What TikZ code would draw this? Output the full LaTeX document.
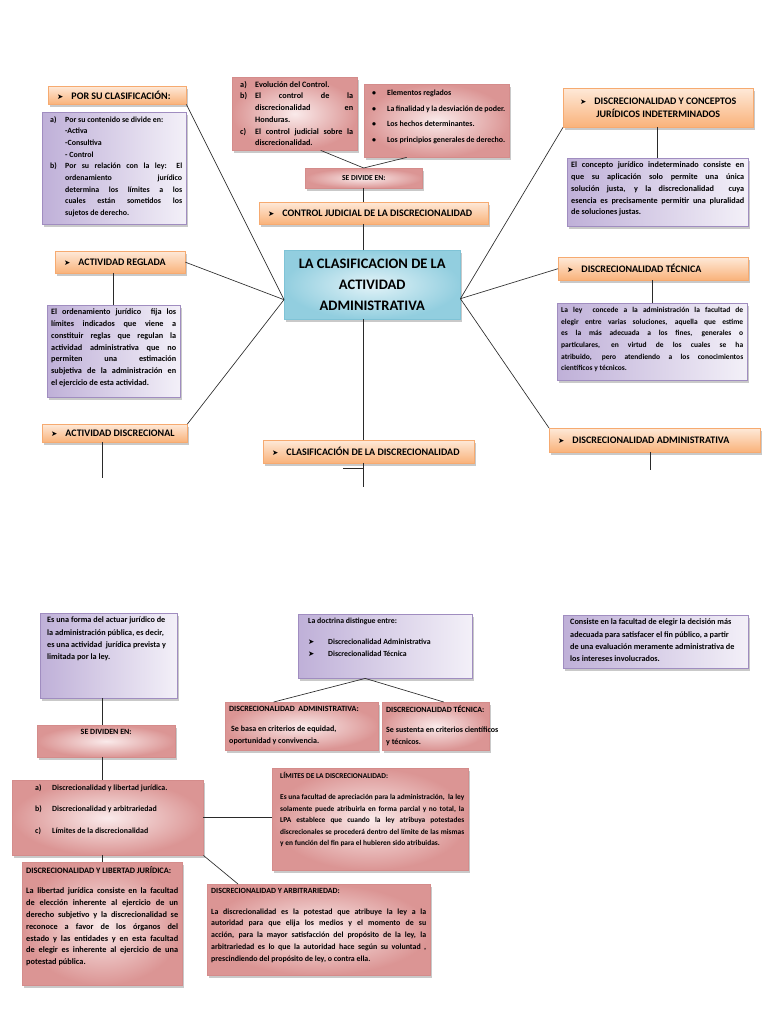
\documentclass[tikz,border=0pt]{standalone}
\usepackage{fontspec}
\setmainfont{Carlito}
\newfontfamily\djv{DejaVu Sans}
\usetikzlibrary{shadows,calc}
\definecolor{orA}{HTML}{FEE9D8}
\definecolor{orB}{HTML}{F9B27A}
\definecolor{orD}{HTML}{F6AA70}
\definecolor{puA}{HTML}{F3F0F8}
\definecolor{puB}{HTML}{BFB0D8}
\definecolor{puD}{HTML}{A08DC0}
\definecolor{piA}{HTML}{FAEAEA}
\definecolor{piB}{HTML}{DB9594}
\definecolor{piD}{HTML}{D48C8B}
\definecolor{blA}{HTML}{E2F3F8}
\definecolor{blB}{HTML}{92CEDF}
\definecolor{blD}{HTML}{7FC3D6}
\definecolor{lnC}{HTML}{2A2A2A}
\newcommand\bx[3]{\parbox[c][#2pt][t]{#1pt}{#3}}
\newcommand\bxm[3]{\parbox[c][#2pt][c]{#1pt}{#3}}
\newcommand\arr{{\djv\fontsize{7.5}{7.5}\selectfont ➤}}
\newcommand\hd[1]{\arr\hspace{8pt}#1}
\newcommand\fs[2]{\fontsize{#1}{#2}\selectfont}
\newcommand\itm[3][18]{\par\hangindent=#1pt\hangafter=1\noindent\makebox[#1pt][l]{#2}#3\par}
\tikzset{
 bbase/.style={anchor=north west, inner xsep=4pt, inner ysep=4pt, line width=0.4pt,
   drop shadow={shadow xshift=2.2pt, shadow yshift=-2.4pt, fill=black!60, opacity=0.35}},
 hdr/.style={bbase, inner xsep=9pt, inner ysep=2pt, draw=orD, top color=orA, bottom color=orB, font=\bfseries\fs{10}{12.5}},
 pbx/.style={bbase, draw=puD, left color=puB, right color=puA, font=\bfseries\fs{8}{11.7}},
 rbx/.style={bbase, draw=piD, inner color=piA, outer color=piB, font=\bfseries\fs{8}{11.7}},
 ctr/.style={bbase, draw=blD, inner color=blA, outer color=blB, font=\bfseries\fs{14.5}{21}},
 ln/.style={draw=lnC, line width=0.65pt},
}
\begin{document}
\begin{tikzpicture}[x=1pt,y=-1pt]
\useasboundingbox[fill=white] (0,0) rectangle (768,1024);
% ---------- top half ----------
\node[hdr] (por) at (48,86) {\bxm{120}{14}{\raggedright\hd{POR SU CLASIFICACIÓN:}}};
\node[pbx, font=\bfseries\fs{7.9}{11.7}] (porb) at (42,112) {\bx{136}{104}{%
 \itm[19]{\hspace*{4pt}a)}{Por su contenido se divide en:\\-Activa\\-Consultiva\\- Control}%
 \itm[19]{\hspace*{4pt}b)}{Por su relación con la ley: El\linebreak ordenamiento jurídico\linebreak determina los límites a los\linebreak cuales están sometidos los\linebreak sujetos de derecho.}}};
\node[rbx, font=\bfseries\fs{8.2}{11.7}] (evol) at (232,77) {\bx{117}{65}{%
 \itm[19]{\hspace*{4pt}a)}{Evolución del Control.}%
 \itm[19]{\hspace*{4pt}b)}{El control de la\linebreak discrecionalidad en\linebreak Honduras.}%
 \itm[19]{\hspace*{4pt}c)}{El control judicial sobre la\linebreak discrecionalidad.}}};
\node[rbx, font=\bfseries\fs{7.9}{15.5}] (bul) at (364,84) {\bx{137}{65}{\vspace*{2pt}%
 \itm[19]{\hspace*{4pt}•}{Elementos reglados}%
 \itm[19]{\hspace*{4pt}•}{La finalidad y la desviación de poder.}%
 \itm[19]{\hspace*{4pt}•}{Los hechos determinantes.}%
 \itm[19]{\hspace*{4pt}•}{Los principios generales de derecho.}}};
\node[rbx, font=\bfseries\fs{7.6}{8}] (sediv) at (305,168) {\bxm{109}{12}{\centering SE DIVIDE EN:}};
\node[hdr] (ctrl) at (259,202) {\bxm{211}{18}{\raggedright\hd{CONTROL JUDICIAL DE LA DISCRECIONALIDAD}}};
\node[ctr] (center) at (284,250) {\bxm{168}{61}{\centering LA CLASIFICACION DE LA\\ACTIVIDAD\\ADMINISTRATIVA}};
\node[hdr] (conc) at (563,88) {\bxm{172}{35}{\centering\hd{DISCRECIONALIDAD Y CONCEPTOS}\\JURÍDICOS INDETERMINADOS}};
\node[pbx, font=\bfseries\fs{8.2}{11.7}] (concb) at (567,158) {\bx{173}{60}{El concepto jurídico indeterminado consiste en\linebreak que su aplicación solo permite una única\linebreak solución justa, y la discrecionalidad\ \ cuya\linebreak esencia es precisamente permitir una pluralidad\linebreak de soluciones justas.}};
\node[hdr] (tec) at (558,257) {\bxm{172}{19}{\raggedright\hd{DISCRECIONALIDAD TÉCNICA}}};
\node[pbx, font=\bfseries\fs{7.5}{11.7}] (tecb) at (557,303) {\bx{182}{69}{La ley\ \ concede a la administración la facultad de\linebreak elegir entre varias soluciones, aquella que estime\linebreak es la más adecuada a los fines, generales o\linebreak particulares, en virtud de los cuales se ha\linebreak atribuido, pero atendiendo a los conocimientos\linebreak científicos y técnicos.}};
\node[hdr] (adm) at (549,428) {\bxm{193}{20}{\raggedright\hd{DISCRECIONALIDAD ADMINISTRATIVA}}};
\node[hdr] (regl) at (55,251) {\bxm{112}{18}{\raggedright\hd{ACTIVIDAD REGLADA}}};
\node[pbx, font=\bfseries\fs{8.2}{11.7}] (reglb) at (47,305) {\bx{125}{84}{El ordenamiento jurídico\ \ fija los\linebreak límites indicados que viene a\linebreak constituir reglas que regulan la\linebreak actividad administrativa que no\linebreak permiten una estimación\linebreak subjetiva de la administración en\linebreak el ejercicio de esta actividad.}};
\node[hdr] (disc) at (42,424) {\bxm{127}{14}{\raggedright\hd{ACTIVIDAD DISCRECIONAL}}};
\node[hdr] (clasif) at (263,440) {\bxm{193}{19}{\raggedright\hd{CLASIFICACIÓN DE LA DISCRECIONALIDAD}}};
% ---------- bottom half ----------
\node[pbx, font=\bfseries\fs{8.2}{12.3}] (forma) at (40,613) {\bx{129}{77}{\raggedright\hspace*{3pt}Es una forma del actuar jurídico de\\\hspace*{3pt}la administración pública, es decir,\\\hspace*{3pt}es una actividad\ \ jurídica prevista y\\\hspace*{3pt}limitada por la ley.}};
\node[rbx, font=\bfseries\fs{8}{11.7}] (sediven) at (37,725) {\bx{130}{24}{\centering SE DIVIDEN EN:}};
\node[rbx, font=\bfseries\fs{7.9}{21.5}] (abc) at (12,780) {\bx{183}{67}{%
 \itm[36]{\hspace*{19pt}a)}{Discrecionalidad y libertad jurídica.}%
 \itm[36]{\hspace*{19pt}b)}{Discrecionalidad y arbitrariedad}%
 \itm[36]{\hspace*{19pt}c)}{Límites de la discrecionalidad}}};
\node[rbx, font=\bfseries\fs{7.4}{11.5}] (lim) at (272,768) {\bx{188}{94}{\hspace*{4pt}LÍMITES DE LA DISCRECIONALIDAD:\par\vskip 10pt
 \leftskip=4pt Es una facultad de apreciación para la administración,\ \ la ley\linebreak solamente puede atribuirla en forma parcial y no total, la\linebreak LPA establece que cuando la ley atribuya potestades\linebreak discrecionales se procederá dentro del límite de las mismas\linebreak y en función del fin para el hubieren sido atribuidas.}};
\node[rbx, font=\bfseries\fs{8.3}{11.8}] (lib) at (22,862) {\bx{152}{115}{DISCRECIONALIDAD Y LIBERTAD JURÍDICA:\par\vskip 9pt
 La libertad jurídica consiste en la facultad\linebreak de elección inherente al ejercicio de un\linebreak derecho subjetivo y la discrecionalidad se\linebreak reconoce a favor de los órganos del\linebreak estado y las entidades y en esta facultad\linebreak de elegir es inherente al ejercicio de una\linebreak potestad pública.}};
\node[rbx, font=\bfseries\fs{7.9}{11.8}] (arb) at (207,884) {\bx{215}{83}{DISCRECIONALIDAD Y ARBITRARIEDAD:\par\vskip 9pt
 La discrecionalidad es la potestad que atribuye la ley a la\linebreak autoridad para que elija los medios y el momento de su\linebreak acción, para la mayor satisfacción del propósito de la ley, la\linebreak arbitrariedad es lo que la autoridad hace según su voluntad ,\linebreak prescindiendo del propósito de ley, o contra ella.}};
\node[pbx, font=\bfseries\fs{7.8}{12}] (doc) at (298,614) {\bx{166}{56}{\hspace*{6pt}La doctrina distingue entre:\par\vskip 9pt
 \itm[26]{\hspace*{6pt}\arr}{Discrecionalidad Administrativa}%
 \itm[26]{\hspace*{6pt}\arr}{Discrecionalidad Técnica}}};
\node[rbx, font=\bfseries\fs{8}{11.8}] (dadm) at (225,702) {\bx{145}{40}{\raggedright DISCRECIONALIDAD\ \ ADMINISTRATIVA:\par\vskip 8pt
 \hspace*{2pt}Se basa en criterios de equidad,\\oportunidad y convivencia.}};
\node[rbx, font=\bfseries\fs{8}{11.8}] (dtec) at (382,702) {\bx{99}{40}{\raggedright DISCRECIONALIDAD TÉCNICA:\par\vskip 8pt
 \makebox[\linewidth][l]{Se sustenta en criterios científicos}\\y técnicos.}};
\node[pbx, font=\bfseries\fs{8.2}{12.3}] (cons) at (563,615) {\bx{177}{45}{\raggedright\hspace*{3pt}Consiste en la facultad de elegir la decisión más\\\hspace*{3pt}adecuada para satisfacer el fin público, a partir\\\hspace*{3pt}de una evaluación meramente administrativa de\\\hspace*{3pt}los intereses involucrados.}};
% ---------- connectors ----------
\coordinate (cl) at ([yshift=-15pt]center.west);
\coordinate (cr) at ([yshift=-14pt]center.east);
\coordinate (cend) at (363,487);
\coordinate (stub) at (343,468);
\coordinate (dend) at (102,478);
\coordinate (aend) at (650,470);
\draw[ln] (por.south east) -- (cl);
\draw[ln] (regl.east) -- (cl);
\draw[ln] (disc.north east) -- (cl);
\draw[ln] (conc.south west) -- (cr);
\draw[ln] (tec.west) -- (cr);
\draw[ln] (adm.north west) -- (cr);
\draw[ln] ([xshift=26pt]evol.south) -- (sediv.north);
\draw[ln] ([xshift=-30pt]bul.south) -- (sediv.north);
\draw[ln] (sediv.south) -- (sediv.south |- ctrl.north);
\draw[ln] (ctrl.south -| sediv.south) -- (center.north -| sediv.south);
\draw[ln] (center.south -| sediv.south) -- (clasif.north -| sediv.south);
\draw[ln] (clasif.south -| cend) -- (cend);
\draw[ln] (stub) -- (stub -| cend);
\draw[ln] (concb.north) -- (concb.north |- conc.south);
\draw[ln] (tecb.north) -- (tecb.north |- tec.south);
\draw[ln] (reglb.north) -- (reglb.north |- regl.south);
\draw[ln] (disc.south -| dend) -- (dend);
\draw[ln] (adm.south -| aend) -- (aend);
\draw[ln] (forma.south -| lib.north) -- (sediven.north -| lib.north);
\draw[ln] (sediven.south -| lib.north) -- (abc.north -| lib.north);
\draw[ln] (abc.south -| lib.north) -- (lib.north);
\draw[ln] (abc.east) -- (abc.east -| lim.west);
\draw[ln] (abc.south east) -- ([xshift=31pt]arb.north west);
\draw[ln] ([xshift=-20pt]doc.south) -- ([xshift=-28pt]dadm.north);
\draw[ln] ([xshift=-20pt]doc.south) -- ([xshift=8pt]dtec.north);
\end{tikzpicture}
\end{document}
